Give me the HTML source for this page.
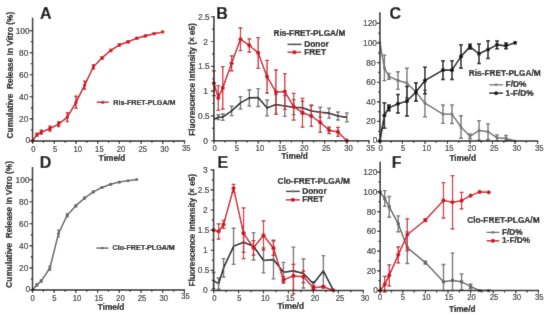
<!DOCTYPE html>
<html><head><meta charset="utf-8"><title>Figure</title>
<style>html,body{margin:0;padding:0;background:#fff}svg{display:block}</style></head>
<body><svg width="550" height="315" viewBox="0 0 550 315">
<style>text{font-family:"Liberation Sans", sans-serif}.tk{font-size:8.4px;fill:#262626;stroke:#262626;stroke-width:0.15px}.tx{font-size:8.8px}.b{font-weight:bold;fill:#0a0a0a;stroke:#0a0a0a;stroke-width:0.2px}</style>
<rect width="550" height="315" fill="#fff"/>
<defs><filter id="soft" filterUnits="userSpaceOnUse" x="0" y="0" width="550" height="315"><feConvolveMatrix order="3" kernelMatrix="0.015 0.06 0.015 0.06 0.70 0.06 0.015 0.06 0.015" edgeMode="duplicate" preserveAlpha="false"/></filter></defs><g filter="url(#soft)"><rect width="550" height="315" fill="#fff"/>
<path d="M36.94 133.07V136.38M35.34 133.07h3.2M35.34 136.38h3.2M41.28 130.2V134.17M39.68 130.2h3.2M39.68 134.17h3.2M49.96 126.12V130.97M48.36 126.12h3.2M48.36 130.97h3.2M58.64 121.71V126.56M57.04 121.71h3.2M57.04 126.56h3.2M67.32 112.66V121.49M65.72 112.66h3.2M65.72 121.49h3.2M76 96.23V108.36M74.4 96.23h3.2M74.4 108.36h3.2M84.68 81.12V89.06M83.08 81.12h3.2M83.08 89.06h3.2M93.36 64.57V68.98M91.76 64.57h3.2M91.76 68.98h3.2M102.04 56.63V59.28M100.44 56.63h3.2M100.44 59.28h3.2M110.72 49.35V51.56M109.12 49.35h3.2M109.12 51.56h3.2M119.4 43.84V46.04M117.8 43.84h3.2M117.8 46.04h3.2M128.08 40.97V42.73M126.48 40.97h3.2M126.48 42.73h3.2M136.76 37.44V39.2M135.16 37.44h3.2M135.16 39.2h3.2M145.44 35.23V36.56M143.84 35.23h3.2M143.84 36.56h3.2M154.12 33.14V34.24M152.52 33.14h3.2M152.52 34.24h3.2" fill="none" stroke="#cf0f1e" stroke-width="1.35"/>
<path d="M32.6 140.9L36.94 134.72L41.28 132.19L49.96 128.55L58.64 124.13L67.32 117.08L76 102.3L84.68 85.09L93.36 66.78L102.04 57.95L110.72 50.45L119.4 44.94L128.08 41.85L136.76 38.32L145.44 35.89L154.12 33.69L162.8 31.92" fill="none" stroke="#cf0f1e" stroke-width="1.6" stroke-linejoin="round"/>
<rect x="31.1" y="139.4" width="3.0" height="3.0" fill="#cf0f1e"/>
<rect x="35.44" y="133.22" width="3.0" height="3.0" fill="#cf0f1e"/>
<rect x="39.78" y="130.69" width="3.0" height="3.0" fill="#cf0f1e"/>
<rect x="48.46" y="127.05" width="3.0" height="3.0" fill="#cf0f1e"/>
<rect x="57.14" y="122.63" width="3.0" height="3.0" fill="#cf0f1e"/>
<rect x="65.82" y="115.58" width="3.0" height="3.0" fill="#cf0f1e"/>
<rect x="74.5" y="100.8" width="3.0" height="3.0" fill="#cf0f1e"/>
<rect x="83.18" y="83.59" width="3.0" height="3.0" fill="#cf0f1e"/>
<rect x="91.86" y="65.28" width="3.0" height="3.0" fill="#cf0f1e"/>
<rect x="100.54" y="56.45" width="3.0" height="3.0" fill="#cf0f1e"/>
<rect x="109.22" y="48.95" width="3.0" height="3.0" fill="#cf0f1e"/>
<rect x="117.9" y="43.44" width="3.0" height="3.0" fill="#cf0f1e"/>
<rect x="126.58" y="40.35" width="3.0" height="3.0" fill="#cf0f1e"/>
<rect x="135.26" y="36.82" width="3.0" height="3.0" fill="#cf0f1e"/>
<rect x="143.94" y="34.39" width="3.0" height="3.0" fill="#cf0f1e"/>
<rect x="152.62" y="32.19" width="3.0" height="3.0" fill="#cf0f1e"/>
<rect x="161.3" y="30.42" width="3.0" height="3.0" fill="#cf0f1e"/>
<path d="M96.7 102.3H108.7" stroke="#cf0f1e" stroke-width="1.5"/>
<rect x="101.3" y="100.9" width="2.8" height="2.8" fill="#cf0f1e"/>
<text x="113.3" y="104.59" text-anchor="start" class="b" font-size="7.2" >Ris-FRET-PLGA/M</text>
<text x="40.1" y="18.8" text-anchor="start" class="b" font-size="16" stroke="#0a0a0a" stroke-width="0.35">A</text>
<text transform="translate(12.7 75.1) rotate(-90)" text-anchor="middle" class="b" font-size="8.3" style="white-space:pre" xml:space="preserve">Cumulative  Release In Vitro (%)</text>
<text x="112.1" y="160.6" text-anchor="middle" class="b" font-size="8.3" >Time/d</text>
<path d="M36.84 283.82V286.03M35.44 283.82h2.8M35.44 286.03h2.8M41.18 279.96V282.17M39.78 279.96h2.8M39.78 282.17h2.8M49.86 265.83V270.25M48.46 265.83h2.8M48.46 270.25h2.8M58.54 230.19V236.81M57.14 230.19h2.8M57.14 236.81h2.8M67.22 213.53V216.84M65.82 213.53h2.8M65.82 216.84h2.8M75.9 204.59V206.8M74.5 204.59h2.8M74.5 206.8h2.8M84.58 197.2V198.96M83.18 197.2h2.8M83.18 198.96h2.8M93.26 191.24V192.56M91.86 191.24h2.8M91.86 192.56h2.8M101.94 186.93V188.04M100.54 186.93h2.8M100.54 188.04h2.8M110.62 183.73V184.84M109.22 183.73h2.8M109.22 184.84h2.8M119.3 181.64V182.52M117.9 181.64h2.8M117.9 182.52h2.8" fill="none" stroke="#666666" stroke-width="1.25"/>
<path d="M32.5 290L36.84 284.92L41.18 281.06L49.86 268.04L58.54 233.5L67.22 215.18L75.9 205.69L84.58 198.08L93.26 191.9L101.94 187.48L110.62 184.28L119.3 182.08L127.98 180.75L136.66 179.43" fill="none" stroke="#666666" stroke-width="1.55" stroke-linejoin="round"/>
<circle cx="32.5" cy="290" r="1.55" fill="#666666"/>
<circle cx="36.84" cy="284.92" r="1.55" fill="#666666"/>
<circle cx="41.18" cy="281.06" r="1.55" fill="#666666"/>
<circle cx="49.86" cy="268.04" r="1.55" fill="#666666"/>
<circle cx="58.54" cy="233.5" r="1.55" fill="#666666"/>
<circle cx="67.22" cy="215.18" r="1.55" fill="#666666"/>
<circle cx="75.9" cy="205.69" r="1.55" fill="#666666"/>
<circle cx="84.58" cy="198.08" r="1.55" fill="#666666"/>
<circle cx="93.26" cy="191.9" r="1.55" fill="#666666"/>
<circle cx="101.94" cy="187.48" r="1.55" fill="#666666"/>
<circle cx="110.62" cy="184.28" r="1.55" fill="#666666"/>
<circle cx="119.3" cy="182.08" r="1.55" fill="#666666"/>
<circle cx="127.98" cy="180.75" r="1.55" fill="#666666"/>
<circle cx="136.66" cy="179.43" r="1.55" fill="#666666"/>
<path d="M96.4 248.1H108.4" stroke="#666666" stroke-width="1.5"/>
<circle cx="102.4" cy="248.1" r="1.4" fill="#666666"/>
<text x="112.5" y="250.37" text-anchor="start" class="b" font-size="7.15" >Clo-FRET-PLGA/M</text>
<text x="39.7" y="168.3" text-anchor="start" class="b" font-size="16" stroke="#0a0a0a" stroke-width="0.35">D</text>
<text transform="translate(12.4 224.3) rotate(-90)" text-anchor="middle" class="b" font-size="8.3" style="white-space:pre" xml:space="preserve">Cumulative  Release In Vitro (%)</text>
<text x="111" y="310.3" text-anchor="middle" class="b" font-size="8.3" >Time/d</text>
<path d="M218.33 114.71V119.67M216.43 114.71h3.8M216.43 119.67h3.8M222.76 113.97V120.41M220.86 113.97h3.8M220.86 120.41h3.8M231.62 106.23V115.65M229.72 106.23h3.8M229.72 115.65h3.8M240.48 96.7V109.1M238.58 96.7h3.8M238.58 109.1h3.8M249.34 89.71V106.08M247.44 89.71h3.8M247.44 106.08h3.8M258.2 88.62V106.48M256.3 88.62h3.8M256.3 106.48h3.8M267.06 100.03V115.9M265.16 100.03h3.8M265.16 115.9h3.8M275.92 94.57V114.41M274.02 94.57h3.8M274.02 114.41h3.8M284.78 95.56V116.4M282.88 95.56h3.8M282.88 116.4h3.8M293.64 99.78V114.66M291.74 99.78h3.8M291.74 114.66h3.8M302.5 101.27V114.16M300.6 101.27h3.8M300.6 114.16h3.8M311.36 104.99V116.89M309.46 104.99h3.8M309.46 116.89h3.8M320.22 107.22V117.14M318.32 107.22h3.8M318.32 117.14h3.8M329.08 108.21V118.13M327.18 108.21h3.8M327.18 118.13h3.8M337.94 112.03V119.97M336.04 112.03h3.8M336.04 119.97h3.8M346.8 112.92V121.85M344.9 112.92h3.8M344.9 121.85h3.8" fill="none" stroke="#737373" stroke-width="1.4"/>
<path d="M213.9 119.17L218.33 117.19L222.76 117.19L231.62 110.94L240.48 102.9L249.34 97.9L258.2 97.55L267.06 107.96L275.92 104.49L284.78 105.98L293.64 107.22L302.5 107.72L311.36 110.94L320.22 112.18L329.08 113.17L337.94 116L346.8 117.39" fill="none" stroke="#141414" stroke-width="1.6" stroke-linejoin="round"/>
<circle cx="213.9" cy="119.17" r="0.0" fill="#141414"/>
<circle cx="218.33" cy="117.19" r="0.0" fill="#141414"/>
<circle cx="222.76" cy="117.19" r="0.0" fill="#141414"/>
<circle cx="231.62" cy="110.94" r="0.0" fill="#141414"/>
<circle cx="240.48" cy="102.9" r="0.0" fill="#141414"/>
<circle cx="249.34" cy="97.9" r="0.0" fill="#141414"/>
<circle cx="258.2" cy="97.55" r="0.0" fill="#141414"/>
<circle cx="267.06" cy="107.96" r="0.0" fill="#141414"/>
<circle cx="275.92" cy="104.49" r="0.0" fill="#141414"/>
<circle cx="284.78" cy="105.98" r="0.0" fill="#141414"/>
<circle cx="293.64" cy="107.22" r="0.0" fill="#141414"/>
<circle cx="302.5" cy="107.72" r="0.0" fill="#141414"/>
<circle cx="311.36" cy="110.94" r="0.0" fill="#141414"/>
<circle cx="320.22" cy="112.18" r="0.0" fill="#141414"/>
<circle cx="329.08" cy="113.17" r="0.0" fill="#141414"/>
<circle cx="337.94" cy="116" r="0.0" fill="#141414"/>
<circle cx="346.8" cy="117.39" r="0.0" fill="#141414"/>
<path d="M213.9 70.91V95.71M212 70.91h3.8M212 95.71h3.8M218.33 85.5V110.3M216.43 85.5h3.8M216.43 110.3h3.8M222.76 66.55V109.2M220.86 66.55h3.8M220.86 109.2h3.8M231.62 55.88V70.76M229.72 55.88h3.8M229.72 70.76h3.8M240.48 27.86V50.68M238.58 27.86h3.8M238.58 50.68h3.8M249.34 38.77V52.16M247.44 38.77h3.8M247.44 52.16h3.8M258.2 37.53V68.28M256.3 37.53h3.8M256.3 68.28h3.8M267.06 60.35V93.08M265.16 60.35h3.8M265.16 93.08h3.8M275.92 69.77V114.41M274.02 69.77h3.8M274.02 114.41h3.8M284.78 73.74V109.45M282.88 73.74h3.8M282.88 109.45h3.8M293.64 93.33V120.12M291.74 93.33h3.8M291.74 120.12h3.8M302.5 98.29V127.06M300.6 98.29h3.8M300.6 127.06h3.8M311.36 105.58V126.42M309.46 105.58h3.8M309.46 126.42h3.8M320.22 112.43V132.27M318.32 112.43h3.8M318.32 132.27h3.8M329.08 127.06V133.51M327.18 127.06h3.8M327.18 133.51h3.8M337.94 127.46V136.38M336.04 127.46h3.8M336.04 136.38h3.8" fill="none" stroke="#cf0f1e" stroke-width="1.25"/>
<path d="M213.9 83.31L218.33 97.9L222.76 87.88L231.62 63.32L240.48 39.27L249.34 45.47L258.2 52.91L267.06 76.72L275.92 92.09L284.78 91.6L293.64 106.72L302.5 112.68L311.36 116L320.22 122.35L329.08 130.28L337.94 131.92L346.8 140.7" fill="none" stroke="#cf0f1e" stroke-width="1.5" stroke-linejoin="round"/>
<circle cx="213.9" cy="83.31" r="2.1" fill="#cf0f1e"/>
<circle cx="218.33" cy="97.9" r="2.1" fill="#cf0f1e"/>
<circle cx="222.76" cy="87.88" r="2.1" fill="#cf0f1e"/>
<circle cx="231.62" cy="63.32" r="2.1" fill="#cf0f1e"/>
<circle cx="240.48" cy="39.27" r="2.1" fill="#cf0f1e"/>
<circle cx="249.34" cy="45.47" r="2.1" fill="#cf0f1e"/>
<circle cx="258.2" cy="52.91" r="2.1" fill="#cf0f1e"/>
<circle cx="267.06" cy="76.72" r="2.1" fill="#cf0f1e"/>
<circle cx="275.92" cy="92.09" r="2.1" fill="#cf0f1e"/>
<circle cx="284.78" cy="91.6" r="2.1" fill="#cf0f1e"/>
<circle cx="293.64" cy="106.72" r="2.1" fill="#cf0f1e"/>
<circle cx="302.5" cy="112.68" r="2.1" fill="#cf0f1e"/>
<circle cx="311.36" cy="116" r="2.1" fill="#cf0f1e"/>
<circle cx="320.22" cy="122.35" r="2.1" fill="#cf0f1e"/>
<circle cx="329.08" cy="130.28" r="2.1" fill="#cf0f1e"/>
<circle cx="337.94" cy="131.92" r="2.1" fill="#cf0f1e"/>
<circle cx="346.8" cy="140.7" r="2.1" fill="#cf0f1e"/>
<text x="273.4" y="36" text-anchor="start" class="b" font-size="8.3" >Ris-FRET-PLGA/M</text>
<path d="M287.6 44.4H301.5" stroke="#141414" stroke-width="1.4"/>
<circle cx="294.55" cy="44.4" r="1.1" fill="#737373"/>
<text x="304.3" y="47.09" text-anchor="start" class="b" font-size="8.3" >Donor</text>
<path d="M287.6 52.3H301.2" stroke="#cf0f1e" stroke-width="1.5"/>
<circle cx="294.4" cy="52.3" r="2.1" fill="#cf0f1e"/>
<text x="304.3" y="54.99" text-anchor="start" class="b" font-size="8.3" >FRET</text>
<text x="216.3" y="18.5" text-anchor="start" class="b" font-size="16" stroke="#0a0a0a" stroke-width="0.35">B</text>
<text transform="translate(194.9 79.5) rotate(-90)" text-anchor="middle" class="b" font-size="8.2" style="white-space:pre" xml:space="preserve">Fluorescence Intensity (× e5)</text>
<text x="294.6" y="159.3" text-anchor="middle" class="b" font-size="8.3" >Time/d</text>
<path d="M213.6 272.55V288.63M211.7 272.55h3.8M211.7 288.63h3.8M218.59 278.02V289.27M216.69 278.02h3.8M216.69 289.27h3.8M223.58 258.64V277.13M221.68 258.64h3.8M221.68 277.13h3.8M233.56 228.21V264.39M231.66 228.21h3.8M231.66 264.39h3.8M243.54 232.11V252.21M241.64 232.11h3.8M241.64 252.21h3.8M253.52 232.63V259.97M251.62 232.63h3.8M251.62 259.97h3.8M263.5 247.99V272.91M261.6 247.99h3.8M261.6 272.91h3.8M273.48 240.31V278.9M271.58 240.31h3.8M271.58 278.9h3.8M283.46 262.38V282.08M281.56 262.38h3.8M281.56 282.08h3.8M293.44 247.14V290.4M291.54 247.14h3.8M291.54 290.4h3.8M303.42 259.04V287.99M301.52 259.04h3.8M301.52 287.99h3.8M313.4 281.68V285.7M311.5 281.68h3.8M311.5 285.7h3.8M323.38 255.59V286.14M321.48 255.59h3.8M321.48 286.14h3.8" fill="none" stroke="#737373" stroke-width="1.4"/>
<path d="M213.6 280.59L218.59 283.65L223.58 267.89L233.56 246.3L243.54 242.16L253.52 246.3L263.5 260.45L273.48 259.61L283.46 272.23L293.44 270.86L303.42 273.52L313.4 283.69L323.38 270.86L333.36 290.4" fill="none" stroke="#141414" stroke-width="1.6" stroke-linejoin="round"/>
<circle cx="213.6" cy="280.59" r="1.0" fill="#737373"/>
<circle cx="218.59" cy="283.65" r="1.0" fill="#737373"/>
<circle cx="223.58" cy="267.89" r="1.0" fill="#737373"/>
<circle cx="233.56" cy="246.3" r="1.0" fill="#737373"/>
<circle cx="243.54" cy="242.16" r="1.0" fill="#737373"/>
<circle cx="253.52" cy="246.3" r="1.0" fill="#737373"/>
<circle cx="263.5" cy="260.45" r="1.0" fill="#737373"/>
<circle cx="273.48" cy="259.61" r="1.0" fill="#737373"/>
<circle cx="283.46" cy="272.23" r="1.0" fill="#737373"/>
<circle cx="293.44" cy="270.86" r="1.0" fill="#737373"/>
<circle cx="303.42" cy="273.52" r="1.0" fill="#737373"/>
<circle cx="313.4" cy="283.69" r="1.0" fill="#737373"/>
<circle cx="323.38" cy="270.86" r="1.0" fill="#737373"/>
<circle cx="333.36" cy="290.4" r="1.0" fill="#737373"/>
<path d="M218.59 223.83V239.1M216.69 223.83h3.8M216.69 239.1h3.8M223.58 220.45V228.49M221.68 220.45h3.8M221.68 228.49h3.8M233.56 184.27V192.31M231.66 184.27h3.8M231.66 192.31h3.8M243.54 207.99V258.64M241.64 207.99h3.8M241.64 258.64h3.8M253.52 240.55V255.02M251.62 240.55h3.8M251.62 255.02h3.8M263.5 220.85V249.8M261.6 220.85h3.8M261.6 249.8h3.8M273.48 240.95V255.43M271.58 240.95h3.8M271.58 255.43h3.8M283.46 276.81V283.24M281.56 276.81h3.8M281.56 283.24h3.8M293.44 264.47V293.82M291.54 264.47h3.8M291.54 293.82h3.8M303.42 271.02V282.68M301.52 271.02h3.8M301.52 282.68h3.8M313.4 285.7V289.72M311.5 285.7h3.8M311.5 289.72h3.8M323.38 285.5V287.91M321.48 285.5h3.8M321.48 287.91h3.8" fill="none" stroke="#cf0f1e" stroke-width="1.25"/>
<path d="M213.6 230.1L218.59 231.47L223.58 224.47L233.56 188.29L243.54 233.32L253.52 247.79L263.5 235.33L273.48 248.19L283.46 280.03L293.44 275.93L303.42 276.85L313.4 287.71L323.38 286.7L333.36 290.4" fill="none" stroke="#cf0f1e" stroke-width="1.5" stroke-linejoin="round"/>
<circle cx="213.6" cy="230.1" r="2.1" fill="#cf0f1e"/>
<circle cx="218.59" cy="231.47" r="2.1" fill="#cf0f1e"/>
<circle cx="223.58" cy="224.47" r="2.1" fill="#cf0f1e"/>
<circle cx="233.56" cy="188.29" r="2.1" fill="#cf0f1e"/>
<circle cx="243.54" cy="233.32" r="2.1" fill="#cf0f1e"/>
<circle cx="253.52" cy="247.79" r="2.1" fill="#cf0f1e"/>
<circle cx="263.5" cy="235.33" r="2.1" fill="#cf0f1e"/>
<circle cx="273.48" cy="248.19" r="2.1" fill="#cf0f1e"/>
<circle cx="283.46" cy="280.03" r="2.1" fill="#cf0f1e"/>
<circle cx="293.44" cy="275.93" r="2.1" fill="#cf0f1e"/>
<circle cx="303.42" cy="276.85" r="2.1" fill="#cf0f1e"/>
<circle cx="313.4" cy="287.71" r="2.1" fill="#cf0f1e"/>
<circle cx="323.38" cy="286.7" r="2.1" fill="#cf0f1e"/>
<circle cx="333.36" cy="290.4" r="2.1" fill="#cf0f1e"/>
<text x="277.5" y="183.8" text-anchor="start" class="b" font-size="8.3" >Clo-FRET-PLGA/M</text>
<path d="M285.9 191.4H299.8" stroke="#141414" stroke-width="1.4"/>
<circle cx="292.85" cy="191.4" r="1.1" fill="#737373"/>
<text x="302.2" y="194.09" text-anchor="start" class="b" font-size="8.3" >Donor</text>
<path d="M285.9 199.8H299.8" stroke="#cf0f1e" stroke-width="1.5"/>
<circle cx="292.85" cy="199.8" r="2.1" fill="#cf0f1e"/>
<text x="302.2" y="202.49" text-anchor="start" class="b" font-size="8.3" >FRET</text>
<text x="217.4" y="168.3" text-anchor="start" class="b" font-size="16" stroke="#0a0a0a" stroke-width="0.35">E</text>
<text transform="translate(194.9 230.3) rotate(-90)" text-anchor="middle" class="b" font-size="8.2" style="white-space:pre" xml:space="preserve">Fluorescence Intensity (× e5)</text>
<text x="290.7" y="309.3" text-anchor="middle" class="b" font-size="8.3" >Time/d</text>
<path d="M384.4 55.15V80.63M382.5 55.15h3.8M382.5 80.63h3.8M388.91 73.38V79.26M387.01 73.38h3.8M387.01 79.26h3.8M397.92 71.71V89.35M396.02 71.71h3.8M396.02 89.35h3.8M406.93 68.28V97.68M405.03 68.28h3.8M405.03 97.68h3.8M415.94 82.69V101.31M414.04 82.69h3.8M414.04 101.31h3.8M424.95 90.33V116.7M423.05 90.33h3.8M423.05 116.7h3.8M442.97 104.94V123.36M441.07 104.94h3.8M441.07 123.36h3.8M451.98 104.84V123.46M450.08 104.84h3.8M450.08 123.46h3.8M460.99 115.72V138.26M459.09 115.72h3.8M459.09 138.26h3.8M470 133.85V138.75M468.1 133.85h3.8M468.1 138.75h3.8M479.01 120.62V140.22M477.11 120.62h3.8M477.11 140.22h3.8M488.02 123.85V139.53M486.12 123.85h3.8M486.12 139.53h3.8M497.03 134.92V140.8M495.13 134.92h3.8M495.13 140.8h3.8M506.04 135.51V141M504.14 135.51h3.8M504.14 141h3.8" fill="none" stroke="#737373" stroke-width="1.4"/>
<path d="M379.9 42.71L384.4 67.89L388.91 76.32L397.92 80.53L406.93 82.98L415.94 92L424.95 103.17L442.97 114.15L451.98 114.15L460.99 126.99L470 136.3L479.01 130.42L488.02 131.69L497.03 137.86L506.04 138.45L515.05 141" fill="none" stroke="#737373" stroke-width="1.5" stroke-linejoin="round"/>
<rect x="378.6" y="41.41" width="2.6" height="2.6" fill="#737373"/>
<rect x="383.1" y="66.59" width="2.6" height="2.6" fill="#737373"/>
<rect x="387.61" y="75.02" width="2.6" height="2.6" fill="#737373"/>
<rect x="396.62" y="79.23" width="2.6" height="2.6" fill="#737373"/>
<rect x="405.63" y="81.68" width="2.6" height="2.6" fill="#737373"/>
<rect x="414.64" y="90.7" width="2.6" height="2.6" fill="#737373"/>
<rect x="423.65" y="101.87" width="2.6" height="2.6" fill="#737373"/>
<rect x="441.67" y="112.85" width="2.6" height="2.6" fill="#737373"/>
<rect x="450.68" y="112.85" width="2.6" height="2.6" fill="#737373"/>
<rect x="459.69" y="125.69" width="2.6" height="2.6" fill="#737373"/>
<rect x="468.7" y="135" width="2.6" height="2.6" fill="#737373"/>
<rect x="477.71" y="129.12" width="2.6" height="2.6" fill="#737373"/>
<rect x="486.72" y="130.39" width="2.6" height="2.6" fill="#737373"/>
<rect x="495.73" y="136.56" width="2.6" height="2.6" fill="#737373"/>
<rect x="504.74" y="137.15" width="2.6" height="2.6" fill="#737373"/>
<rect x="513.75" y="139.7" width="2.6" height="2.6" fill="#737373"/>
<path d="M384.4 102.78V128.26M382.4 102.78h4.0M382.4 128.26h4.0M388.91 104.94V110.82M386.91 104.94h4.0M386.91 110.82h4.0M397.92 94.45V113.07M395.92 94.45h4.0M395.92 113.07h4.0M406.93 86.51V115.91M404.93 86.51h4.0M404.93 115.91h4.0M415.94 82.69V101.31M413.94 82.69h4.0M413.94 101.31h4.0M424.95 67.3V93.76M422.95 67.3h4.0M422.95 93.76h4.0M442.97 60.84V79.46M440.97 60.84h4.0M440.97 79.46h4.0M451.98 60.84V79.46M449.98 60.84h4.0M449.98 79.46h4.0M460.99 44.67V68.19M458.99 44.67h4.0M458.99 68.19h4.0M470 44.18V49.08M468 44.18h4.0M468 49.08h4.0M479.01 43.98V63.58M477.01 43.98h4.0M477.01 63.58h4.0M488.02 40.75V58.39M486.02 40.75h4.0M486.02 58.39h4.0M497.03 41.04V48.68M495.03 41.04h4.0M495.03 48.68h4.0M506.04 42.9V48.78M504.04 42.9h4.0M504.04 48.78h4.0" fill="none" stroke="#141414" stroke-width="1.5"/>
<path d="M379.9 141L384.4 115.52L388.91 107.88L397.92 103.76L406.93 101.21L415.94 92L424.95 80.53L442.97 70.15L451.98 70.15L460.99 56.43L470 46.63L479.01 53.78L488.02 49.57L497.03 44.86L506.04 45.84L515.05 42.8" fill="none" stroke="#141414" stroke-width="1.6" stroke-linejoin="round"/>
<circle cx="379.9" cy="141" r="2.1" fill="#141414"/>
<circle cx="384.4" cy="115.52" r="2.1" fill="#141414"/>
<circle cx="388.91" cy="107.88" r="2.1" fill="#141414"/>
<circle cx="397.92" cy="103.76" r="2.1" fill="#141414"/>
<circle cx="406.93" cy="101.21" r="2.1" fill="#141414"/>
<circle cx="415.94" cy="92" r="2.1" fill="#141414"/>
<circle cx="424.95" cy="80.53" r="2.1" fill="#141414"/>
<circle cx="442.97" cy="70.15" r="2.1" fill="#141414"/>
<circle cx="451.98" cy="70.15" r="2.1" fill="#141414"/>
<circle cx="460.99" cy="56.43" r="2.1" fill="#141414"/>
<circle cx="470" cy="46.63" r="2.1" fill="#141414"/>
<circle cx="479.01" cy="53.78" r="2.1" fill="#141414"/>
<circle cx="488.02" cy="49.57" r="2.1" fill="#141414"/>
<circle cx="497.03" cy="44.86" r="2.1" fill="#141414"/>
<circle cx="506.04" cy="45.84" r="2.1" fill="#141414"/>
<circle cx="515.05" cy="42.8" r="2.1" fill="#141414"/>
<text x="468.8" y="75.6" text-anchor="start" class="b" font-size="8.3" >Ris-FRET-PLGA/M</text>
<path d="M489.1 84.8H503.1" stroke="#737373" stroke-width="1.3"/>
<rect x="494.9" y="83.6" width="2.4" height="2.4" fill="#737373"/>
<text x="505.6" y="87.49" text-anchor="start" class="b" font-size="8.3" >F/D%</text>
<path d="M489.1 93.2H503.1" stroke="#141414" stroke-width="1.5"/>
<circle cx="496.1" cy="93.2" r="2.0" fill="#141414"/>
<text x="505.6" y="95.89" text-anchor="start" class="b" font-size="8.3" >1-F/D%</text>
<text x="389.6" y="18.8" text-anchor="start" class="b" font-size="16" stroke="#0a0a0a" stroke-width="0.35">C</text>
<text x="462.7" y="161" text-anchor="middle" class="b" font-size="8.3" >Time/d</text>
<path d="M384.72 190.62V206.41M382.82 190.62h3.8M382.82 206.41h3.8M389.24 196.54V217.27M387.34 196.54h3.8M387.34 217.27h3.8M398.28 215.88V231.68M396.38 215.88h3.8M396.38 231.68h3.8M407.32 231.87V263.46M405.42 231.87h3.8M405.42 263.46h3.8M425.4 261.09V264.05M423.5 261.09h3.8M423.5 264.05h3.8M443.48 264.44V290.6M441.58 264.44h3.8M441.58 290.6h3.8M452.52 253.09V290.6M450.62 253.09h3.8M450.62 290.6h3.8M461.56 273.92V289.71M459.66 273.92h3.8M459.66 289.71h3.8M470.6 283.89V288.82M468.7 283.89h3.8M468.7 288.82h3.8" fill="none" stroke="#737373" stroke-width="1.4"/>
<path d="M380.2 192.1L384.72 198.51L389.24 206.9L398.28 223.78L407.32 247.67L425.4 262.57L443.48 281.82L452.52 280.43L461.56 281.82L470.6 286.36L479.64 290.6L488.68 290.6" fill="none" stroke="#666666" stroke-width="1.5" stroke-linejoin="round"/>
<rect x="378.6" y="190.5" width="3.2" height="3.2" fill="#666666"/>
<rect x="383.12" y="196.91" width="3.2" height="3.2" fill="#666666"/>
<rect x="387.64" y="205.3" width="3.2" height="3.2" fill="#666666"/>
<rect x="396.68" y="222.18" width="3.2" height="3.2" fill="#666666"/>
<rect x="405.72" y="246.07" width="3.2" height="3.2" fill="#666666"/>
<rect x="423.8" y="260.97" width="3.2" height="3.2" fill="#666666"/>
<rect x="441.88" y="280.22" width="3.2" height="3.2" fill="#666666"/>
<rect x="450.92" y="278.83" width="3.2" height="3.2" fill="#666666"/>
<rect x="459.96" y="280.22" width="3.2" height="3.2" fill="#666666"/>
<rect x="469" y="284.76" width="3.2" height="3.2" fill="#666666"/>
<rect x="478.04" y="289" width="3.2" height="3.2" fill="#666666"/>
<rect x="487.08" y="289" width="3.2" height="3.2" fill="#666666"/>
<path d="M384.72 276.39V292.18M382.82 276.39h3.8M382.82 292.18h3.8M389.24 264.94V285.86M387.34 264.94h3.8M387.34 285.86h3.8M398.28 246.97V262.77M396.38 246.97h3.8M396.38 262.77h3.8M407.32 218.94V250.53M405.42 218.94h3.8M405.42 250.53h3.8M425.4 218.55V221.51M423.5 218.55h3.8M423.5 221.51h3.8M443.48 182.62V218.15M441.58 182.62h3.8M441.58 218.15h3.8M452.52 175.61V228.91M450.62 175.61h3.8M450.62 228.91h3.8M461.56 192.39V208.98M459.66 192.39h3.8M459.66 208.98h3.8" fill="none" stroke="#cf0f1e" stroke-width="1.25"/>
<path d="M380.2 290.6L384.72 284.28L389.24 275.4L398.28 254.87L407.32 234.74L425.4 220.03L443.48 200.39L452.52 202.26L461.56 200.68L470.6 195.65L479.64 191.9L488.68 192.29" fill="none" stroke="#cf0f1e" stroke-width="1.5" stroke-linejoin="round"/>
<circle cx="380.2" cy="290.6" r="2.1" fill="#cf0f1e"/>
<circle cx="384.72" cy="284.28" r="2.1" fill="#cf0f1e"/>
<circle cx="389.24" cy="275.4" r="2.1" fill="#cf0f1e"/>
<circle cx="398.28" cy="254.87" r="2.1" fill="#cf0f1e"/>
<circle cx="407.32" cy="234.74" r="2.1" fill="#cf0f1e"/>
<circle cx="425.4" cy="220.03" r="2.1" fill="#cf0f1e"/>
<circle cx="443.48" cy="200.39" r="2.1" fill="#cf0f1e"/>
<circle cx="452.52" cy="202.26" r="2.1" fill="#cf0f1e"/>
<circle cx="461.56" cy="200.68" r="2.1" fill="#cf0f1e"/>
<circle cx="470.6" cy="195.65" r="2.1" fill="#cf0f1e"/>
<circle cx="479.64" cy="191.9" r="2.1" fill="#cf0f1e"/>
<circle cx="488.68" cy="192.29" r="2.1" fill="#cf0f1e"/>
<text x="467.2" y="223" text-anchor="start" class="b" font-size="8.3" >Clo-FRET-PLGA/M</text>
<path d="M486.6 232.4H499.2" stroke="#666666" stroke-width="1.3"/>
<rect x="491.7" y="231.2" width="2.4" height="2.4" fill="#737373"/>
<text x="502" y="235.09" text-anchor="start" class="b" font-size="8.3" >F/D%</text>
<path d="M486.6 240.8H499.2" stroke="#cf0f1e" stroke-width="1.5"/>
<circle cx="492.9" cy="240.8" r="2.1" fill="#cf0f1e"/>
<text x="502" y="243.49" text-anchor="start" class="b" font-size="8.3" >1-F/D%</text>
<text x="391.8" y="168.3" text-anchor="start" class="b" font-size="16" stroke="#0a0a0a" stroke-width="0.35">F</text>
<text x="462.3" y="311.5" text-anchor="middle" class="b" font-size="8.3" >Time/d</text>
<path d="M32.6 18.47V140.9H184.5" fill="none" stroke="#1a1a1a" stroke-width="1.5" stroke-linecap="square"/>
<path d="M32.6 140.9v3.0M54.3 140.9v3.0M76 140.9v3.0M97.7 140.9v3.0M119.4 140.9v3.0M141.1 140.9v3.0M162.8 140.9v3.0M184.5 140.9v3.0M43.45 140.9v1.8M65.15 140.9v1.8M86.85 140.9v1.8M108.55 140.9v1.8M130.25 140.9v1.8M151.95 140.9v1.8M173.65 140.9v1.8M32.6 140.9h-3.0M32.6 118.84h-3.0M32.6 96.78h-3.0M32.6 74.72h-3.0M32.6 52.66h-3.0M32.6 30.6h-3.0M32.6 129.87h-1.8M32.6 107.81h-1.8M32.6 85.75h-1.8M32.6 63.69h-1.8M32.6 41.63h-1.8" fill="none" stroke="#1a1a1a" stroke-width="1.15"/>
<text transform="translate(33.4 152.1) scale(0.88 1)" text-anchor="middle" class="tk tx">0</text>
<text transform="translate(55.1 152.1) scale(0.88 1)" text-anchor="middle" class="tk tx">5</text>
<text transform="translate(77.7 152.1) scale(0.88 1)" text-anchor="middle" class="tk tx">10</text>
<text transform="translate(99.4 152.1) scale(0.88 1)" text-anchor="middle" class="tk tx">15</text>
<text transform="translate(121.1 152.1) scale(0.88 1)" text-anchor="middle" class="tk tx">20</text>
<text transform="translate(142.8 152.1) scale(0.88 1)" text-anchor="middle" class="tk tx">25</text>
<text transform="translate(164.5 152.1) scale(0.88 1)" text-anchor="middle" class="tk tx">30</text>
<text transform="translate(186.2 151) scale(0.88 1)" text-anchor="middle" class="tk tx">35</text>
<text x="30.2" y="142.8" text-anchor="end" class="tk">0</text>
<text x="28.4" y="121.84" text-anchor="end" class="tk">20</text>
<text x="28.4" y="99.78" text-anchor="end" class="tk">40</text>
<text x="28.4" y="77.72" text-anchor="end" class="tk">60</text>
<text x="28.4" y="55.66" text-anchor="end" class="tk">80</text>
<text x="29.7" y="33.6" text-anchor="end" class="tk">100</text>
<path d="M32.5 167.73V290H184.4" fill="none" stroke="#1a1a1a" stroke-width="1.5" stroke-linecap="square"/>
<path d="M32.5 290v3.0M54.2 290v3.0M75.9 290v3.0M97.6 290v3.0M119.3 290v3.0M141 290v3.0M162.7 290v3.0M184.4 290v3.0M43.35 290v1.8M65.05 290v1.8M86.75 290v1.8M108.45 290v1.8M130.15 290v1.8M151.85 290v1.8M173.55 290v1.8M32.5 290h-3.0M32.5 267.93h-3.0M32.5 245.86h-3.0M32.5 223.79h-3.0M32.5 201.72h-3.0M32.5 179.65h-3.0M32.5 278.96h-1.8M32.5 256.89h-1.8M32.5 234.82h-1.8M32.5 212.75h-1.8M32.5 190.69h-1.8" fill="none" stroke="#1a1a1a" stroke-width="1.15"/>
<text transform="translate(32.7 300.9) scale(0.88 1)" text-anchor="middle" class="tk tx">0</text>
<text transform="translate(54.4 300.9) scale(0.88 1)" text-anchor="middle" class="tk tx">5</text>
<text transform="translate(77 300.9) scale(0.88 1)" text-anchor="middle" class="tk tx">10</text>
<text transform="translate(98.7 300.9) scale(0.88 1)" text-anchor="middle" class="tk tx">15</text>
<text transform="translate(120.4 300.9) scale(0.88 1)" text-anchor="middle" class="tk tx">20</text>
<text transform="translate(142.1 300.9) scale(0.88 1)" text-anchor="middle" class="tk tx">25</text>
<text transform="translate(163.8 300.9) scale(0.88 1)" text-anchor="middle" class="tk tx">30</text>
<text transform="translate(185.5 299.4) scale(0.88 1)" text-anchor="middle" class="tk tx">35</text>
<text x="30.1" y="291.9" text-anchor="end" class="tk">0</text>
<text x="28.3" y="270.93" text-anchor="end" class="tk">20</text>
<text x="28.3" y="248.86" text-anchor="end" class="tk">40</text>
<text x="28.3" y="226.79" text-anchor="end" class="tk">60</text>
<text x="28.3" y="204.72" text-anchor="end" class="tk">80</text>
<text x="29.6" y="182.65" text-anchor="end" class="tk">100</text>
<path d="M213.9 16.7V140.7H368.95" fill="none" stroke="#1a1a1a" stroke-width="1.5" stroke-linecap="square"/>
<path d="M213.9 140.7v3.0M236.05 140.7v3.0M258.2 140.7v3.0M280.35 140.7v3.0M302.5 140.7v3.0M324.65 140.7v3.0M346.8 140.7v3.0M368.95 140.7v3.0M224.97 140.7v1.8M247.12 140.7v1.8M269.27 140.7v1.8M291.43 140.7v1.8M313.57 140.7v1.8M335.73 140.7v1.8M357.88 140.7v1.8M213.9 140.7h-3.0M213.9 115.9h-3.0M213.9 91.1h-3.0M213.9 66.3h-3.0M213.9 41.5h-3.0M213.9 16.7h-3.0M213.9 128.3h-1.8M213.9 103.5h-1.8M213.9 78.7h-1.8M213.9 53.9h-1.8M213.9 29.1h-1.8" fill="none" stroke="#1a1a1a" stroke-width="1.15"/>
<text transform="translate(214.7 150.8) scale(0.88 1)" text-anchor="middle" class="tk tx">0</text>
<text transform="translate(236.85 150.8) scale(0.88 1)" text-anchor="middle" class="tk tx">5</text>
<text transform="translate(259.9 150.8) scale(0.88 1)" text-anchor="middle" class="tk tx">10</text>
<text transform="translate(282.05 150.8) scale(0.88 1)" text-anchor="middle" class="tk tx">15</text>
<text transform="translate(304.2 150.8) scale(0.88 1)" text-anchor="middle" class="tk tx">20</text>
<text transform="translate(326.35 150.8) scale(0.88 1)" text-anchor="middle" class="tk tx">25</text>
<text transform="translate(348.5 150.8) scale(0.88 1)" text-anchor="middle" class="tk tx">30</text>
<text transform="translate(370.65 150.8) scale(0.88 1)" text-anchor="middle" class="tk tx">35</text>
<text x="207.9" y="143.7" text-anchor="end" class="tk">0</text>
<text x="209.7" y="118.9" text-anchor="end" class="tk">0.5</text>
<text x="207.9" y="94.1" text-anchor="end" class="tk">1</text>
<text x="209.7" y="69.3" text-anchor="end" class="tk">1.5</text>
<text x="207.9" y="44.5" text-anchor="end" class="tk">2</text>
<text x="209.7" y="19.7" text-anchor="end" class="tk">2.5</text>
<path d="M213.6 169.8V290.4H363.3" fill="none" stroke="#1a1a1a" stroke-width="1.5" stroke-linecap="square"/>
<path d="M213.6 290.4v3.0M238.55 290.4v3.0M263.5 290.4v3.0M288.45 290.4v3.0M313.4 290.4v3.0M338.35 290.4v3.0M363.3 290.4v3.0M226.07 290.4v1.8M251.03 290.4v1.8M275.98 290.4v1.8M300.93 290.4v1.8M325.88 290.4v1.8M350.82 290.4v1.8M213.6 290.4h-3.0M213.6 270.3h-3.0M213.6 250.2h-3.0M213.6 230.1h-3.0M213.6 210h-3.0M213.6 189.9h-3.0M213.6 169.8h-3.0M213.6 280.35h-1.8M213.6 260.25h-1.8M213.6 240.15h-1.8M213.6 220.05h-1.8M213.6 199.95h-1.8M213.6 179.85h-1.8" fill="none" stroke="#1a1a1a" stroke-width="1.15"/>
<text transform="translate(214.4 300.5) scale(0.88 1)" text-anchor="middle" class="tk tx">0</text>
<text transform="translate(239.35 300.5) scale(0.88 1)" text-anchor="middle" class="tk tx">5</text>
<text transform="translate(265.2 300.5) scale(0.88 1)" text-anchor="middle" class="tk tx">10</text>
<text transform="translate(290.15 300.5) scale(0.88 1)" text-anchor="middle" class="tk tx">15</text>
<text transform="translate(315.1 300.5) scale(0.88 1)" text-anchor="middle" class="tk tx">20</text>
<text transform="translate(340.05 300.5) scale(0.88 1)" text-anchor="middle" class="tk tx">25</text>
<text transform="translate(365 300.5) scale(0.88 1)" text-anchor="middle" class="tk tx">30</text>
<text x="207.6" y="293.4" text-anchor="end" class="tk">0</text>
<text x="209.4" y="273.3" text-anchor="end" class="tk">0.5</text>
<text x="207.6" y="253.2" text-anchor="end" class="tk">1</text>
<text x="209.4" y="233.1" text-anchor="end" class="tk">1.5</text>
<text x="207.6" y="213" text-anchor="end" class="tk">2</text>
<text x="209.4" y="192.9" text-anchor="end" class="tk">2.5</text>
<text x="207.6" y="172.8" text-anchor="end" class="tk">3</text>
<path d="M379.9 13.11V141H537.57" fill="none" stroke="#1a1a1a" stroke-width="1.5" stroke-linecap="square"/>
<path d="M379.9 141v3.0M402.42 141v3.0M424.95 141v3.0M447.47 141v3.0M470 141v3.0M492.52 141v3.0M515.05 141v3.0M537.57 141v3.0M391.16 141v1.8M413.69 141v1.8M436.21 141v1.8M458.74 141v1.8M481.26 141v1.8M503.79 141v1.8M526.31 141v1.8M379.9 141h-3.0M379.9 121.4h-3.0M379.9 101.8h-3.0M379.9 82.2h-3.0M379.9 62.6h-3.0M379.9 43h-3.0M379.9 23.4h-3.0M379.9 131.2h-1.8M379.9 111.6h-1.8M379.9 92h-1.8M379.9 72.4h-1.8M379.9 52.8h-1.8M379.9 33.2h-1.8" fill="none" stroke="#1a1a1a" stroke-width="1.15"/>
<text transform="translate(380.7 151) scale(0.88 1)" text-anchor="middle" class="tk tx">0</text>
<text transform="translate(403.22 151) scale(0.88 1)" text-anchor="middle" class="tk tx">5</text>
<text transform="translate(426.65 151) scale(0.88 1)" text-anchor="middle" class="tk tx">10</text>
<text transform="translate(449.17 151) scale(0.88 1)" text-anchor="middle" class="tk tx">15</text>
<text transform="translate(471.7 151) scale(0.88 1)" text-anchor="middle" class="tk tx">20</text>
<text transform="translate(494.22 151) scale(0.88 1)" text-anchor="middle" class="tk tx">25</text>
<text transform="translate(516.75 151) scale(0.88 1)" text-anchor="middle" class="tk tx">30</text>
<text transform="translate(539.27 151) scale(0.88 1)" text-anchor="middle" class="tk tx">35</text>
<text x="377.5" y="142.9" text-anchor="end" class="tk">0</text>
<text x="375.7" y="124.4" text-anchor="end" class="tk">20</text>
<text x="375.7" y="104.8" text-anchor="end" class="tk">40</text>
<text x="375.7" y="85.2" text-anchor="end" class="tk">60</text>
<text x="375.7" y="65.6" text-anchor="end" class="tk">80</text>
<text x="377" y="46" text-anchor="end" class="tk">100</text>
<text x="377" y="26.4" text-anchor="end" class="tk">120</text>
<path d="M380.2 162.59V290.6H538.4" fill="none" stroke="#1a1a1a" stroke-width="1.5" stroke-linecap="square"/>
<path d="M380.2 290.6v3.0M402.8 290.6v3.0M425.4 290.6v3.0M448 290.6v3.0M470.6 290.6v3.0M493.2 290.6v3.0M515.8 290.6v3.0M538.4 290.6v3.0M391.5 290.6v1.8M414.1 290.6v1.8M436.7 290.6v1.8M459.3 290.6v1.8M481.9 290.6v1.8M504.5 290.6v1.8M527.1 290.6v1.8M380.2 290.6h-3.0M380.2 270.86h-3.0M380.2 251.12h-3.0M380.2 231.38h-3.0M380.2 211.64h-3.0M380.2 191.9h-3.0M380.2 172.16h-3.0M380.2 280.73h-1.8M380.2 260.99h-1.8M380.2 241.25h-1.8M380.2 221.51h-1.8M380.2 201.77h-1.8M380.2 182.03h-1.8" fill="none" stroke="#1a1a1a" stroke-width="1.15"/>
<text transform="translate(380.2 300.4) scale(0.88 1)" text-anchor="middle" class="tk tx">0</text>
<text transform="translate(402.8 300.4) scale(0.88 1)" text-anchor="middle" class="tk tx">5</text>
<text transform="translate(426.3 300.4) scale(0.88 1)" text-anchor="middle" class="tk tx">10</text>
<text transform="translate(448.9 300.4) scale(0.88 1)" text-anchor="middle" class="tk tx">15</text>
<text transform="translate(471.5 300.4) scale(0.88 1)" text-anchor="middle" class="tk tx">20</text>
<text transform="translate(494.1 300.4) scale(0.88 1)" text-anchor="middle" class="tk tx">25</text>
<text transform="translate(516.7 300.4) scale(0.88 1)" text-anchor="middle" class="tk tx">30</text>
<text transform="translate(539.3 300.4) scale(0.88 1)" text-anchor="middle" class="tk tx">35</text>
<text x="377.8" y="292.5" text-anchor="end" class="tk">0</text>
<text x="376" y="273.86" text-anchor="end" class="tk">20</text>
<text x="376" y="254.12" text-anchor="end" class="tk">40</text>
<text x="376" y="234.38" text-anchor="end" class="tk">60</text>
<text x="376" y="214.64" text-anchor="end" class="tk">80</text>
<text x="377.3" y="194.9" text-anchor="end" class="tk">100</text>
<text x="377.3" y="175.16" text-anchor="end" class="tk">120</text>
</g></svg></body></html>
